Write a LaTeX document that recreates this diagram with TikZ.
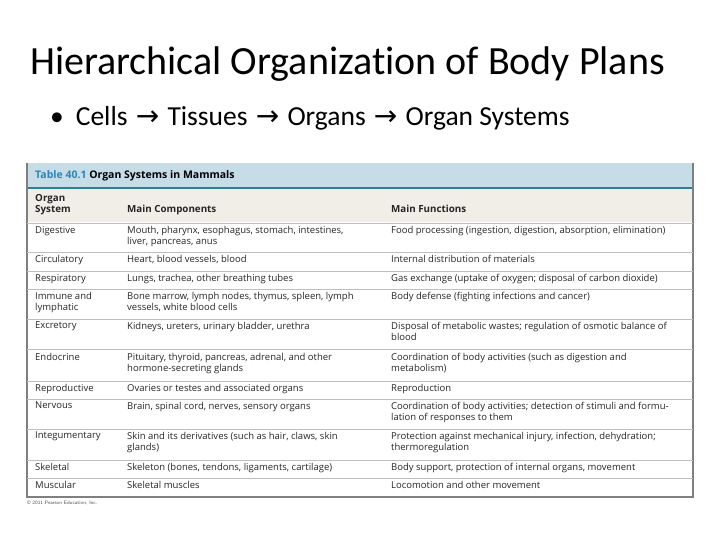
\documentclass[tikz,border=0pt]{standalone}
\usepackage{fontspec}
\setmainfont{Carlito}[Ligatures=NoCommon]
\newfontfamily\tabfont{Open Sans}
\newfontfamily\arrfont{DejaVu Sans}
\definecolor{bandblue}{HTML}{C6DDE8}
\definecolor{teal}{HTML}{2A7F9A}
\definecolor{beige}{HTML}{F1EEE8}
\definecolor{titleblue}{HTML}{2A86B8}
\definecolor{sep}{HTML}{BFBFBF}
\newcommand{\ar}{\hspace{2pt}{\arrfont\fontsize{28}{28}\selectfont →}\hspace{2pt}}
\begin{document}
\begin{tikzpicture}[x=1pt,y=-1pt,
  cell/.style={anchor=north west,inner sep=0pt,align=left,font=\tabfont\fontsize{9.5}{11}\selectfont,text=black!85},
  hcell/.style={cell,font=\tabfont\bfseries\fontsize{9.8}{11}\selectfont}]
\useasboundingbox (0,0) rectangle (720,540);
\node[anchor=base west,inner sep=0pt,font=\fontsize{40}{44}\selectfont] (title) at (30,75) {Hierarchical Organization of Body Plans};
\node[anchor=base west,inner sep=0pt,font=\fontsize{27.5}{30}\selectfont] (bullet) at (50,126) {•\hspace{12pt}Cells \ar{} Tissues \ar{} Organs \ar{} Organ Systems};
% table
\fill[bandblue] (27,163) rectangle (693,187);
\fill[beige] (27,189) rectangle (693,222);
\draw[teal,line width=2pt] (27,188) -- (693,188);
\draw[gray,line width=1.2pt] (27,163) -- (27,497) -- (693,497) -- (693,163);
\node[anchor=base west,inner sep=0pt,font=\tabfont\bfseries\fontsize{10.5}{12}\selectfont] (tt) at (35,179) {\textcolor{titleblue}{Table 40.1} Organ Systems in Mammals};
\node[hcell] (h1) at (35,194) {Organ\\System};
\node[hcell] (h2) at (127,205) {Main Components};
\node[hcell] (h3) at (391,205) {Main Functions};
\foreach \y in {223,252,271,289,319,349,381,399,429,460,478}
  \draw[sep,line width=0.5pt] (27,\y) -- (693,\y);
\foreach \y/\a/\b/\c in {
 226/Digestive/{Mouth, pharynx, esophagus, stomach, intestines,\\liver, pancreas, anus}/{Food processing (ingestion, digestion, absorption, elimination)},
 255/Circulatory/{Heart, blood vessels, blood}/{Internal distribution of materials},
 274/Respiratory/{Lungs, trachea, other breathing tubes}/{Gas exchange (uptake of oxygen; disposal of carbon dioxide)},
 292/{Immune and\\lymphatic}/{Bone marrow, lymph nodes, thymus, spleen, lymph\\vessels, white blood cells}/{Body defense (fighting infections and cancer)},
 322/Excretory/{Kidneys, ureters, urinary bladder, urethra}/{Disposal of metabolic wastes; regulation of osmotic balance of\\blood},
 353/Endocrine/{Pituitary, thyroid, pancreas, adrenal, and other\\hormone-secreting glands}/{Coordination of body activities (such as digestion and\\metabolism)},
 384/Reproductive/{Ovaries or testes and associated organs}/{Reproduction},
 402/Nervous/{Brain, spinal cord, nerves, sensory organs}/{Coordination of body activities; detection of stimuli and formu-\\lation of responses to them},
 432/Integumentary/{Skin and its derivatives (such as hair, claws, skin\\glands)}/{Protection against mechanical injury, infection, dehydration;\\thermoregulation},
 463/Skeletal/{Skeleton (bones, tendons, ligaments, cartilage)}/{Body support, protection of internal organs, movement},
 481/Muscular/{Skeletal muscles}/{Locomotion and other movement}}
{
 \node[cell] at (35,\y) {\a};
 \node[cell] at (127,\y) {\b};
 \node[cell] at (391,\y) {\c};
}
\node[anchor=north west,inner sep=0pt,font=\sffamily\fontsize{5}{6}\selectfont,text=black!70] (copy) at (27,501) {© 2011 Pearson Education, Inc.};
\end{tikzpicture}
\end{document}
